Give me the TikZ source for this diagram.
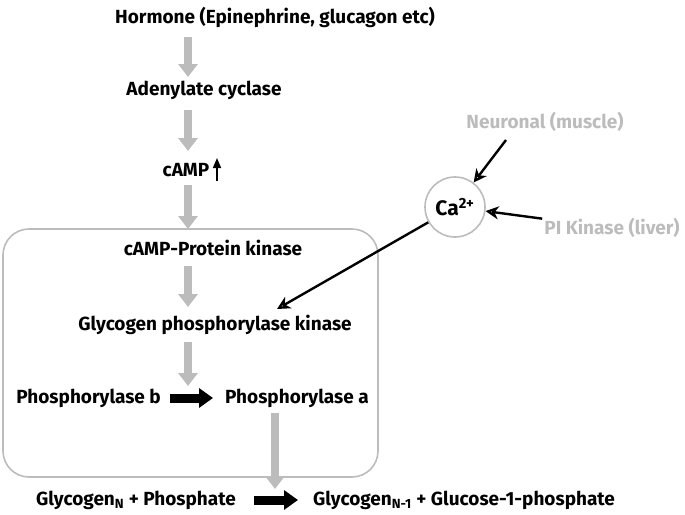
\documentclass[tikz,border=0pt]{standalone}
\usepackage{fontspec}
\setmainfont{Fira Sans}
\usepackage{tikz}
\usetikzlibrary{arrows.meta,calc}
\definecolor{lightgr}{RGB}{188,188,188}

\tikzset{
  lbl/.style={font=\bfseries\fontsize{19}{22}\selectfont, inner sep=2pt},
  side/.style={lbl, text=lightgr},
  grayarrow/.style={draw=lightgr, line width=8pt, -{Triangle[width=19pt,length=13pt]}},
  fatarrow/.style={draw=black, line width=9pt, -{Triangle[width=19pt,length=14pt]}},
  thinarrow/.style={draw=black, line width=2.4pt, -{Stealth[open,length=13pt,width=13pt,inset=4pt]}},
}

\begin{document}
\begin{tikzpicture}[x=1pt,y=-1pt]
   \useasboundingbox (0,0) rectangle (685,514);

   % cell box
   \draw[lightgr, line width=1.6pt, rounded corners=26pt] (3,229) rectangle (378,477);

   \node[lbl] (hormone) at (275,17) {Hormone (Epinephrine, glucagon etc)};
   \node[lbl] (adenyl)  at (204,90) {Adenylate cyclase};
   \node[lbl] (camp)    at (186,170) {cAMP};
   \node[lbl] (pka)     at (213,248) {cAMP-Protein kinase};
   \node[lbl] (gpk)     at (215,325) {Glycogen phosphorylase kinase};
   \node[lbl, anchor=east] (phosb) at (163,398) {Phosphorylase b};
   \node[lbl, anchor=west] (phosa) at (223,398) {Phosphorylase a};
   \node[lbl, anchor=east] (glyn)  at (238,500) {Glycogen\textsubscript{N} + Phosphate};
   \node[lbl, anchor=west] (glyn1) at (311,500) {Glycogen\textsubscript{N-1} + Glucose-1-phosphate};

   \node[circle, draw=lightgr, line width=1.6pt, minimum size=60pt,
         font=\bfseries\fontsize{21}{24}\selectfont, inner sep=0pt] (ca) at (455,207) {Ca\textsuperscript{2+}};
   \node[side] (neuro) at (545,122) {Neuronal (muscle)};
   \node[side] (pik)   at (612,228) {PI Kinase (liver)};

   \coordinate (campup) at (217,181);
   \coordinate (gpkin) at (277,309);
   \coordinate (neuout) at (506,140);
   \coordinate (rxn) at (275,489);

   % main cascade
   \draw[grayarrow] (188,37) -- (188,77);
   \draw[grayarrow] (188,110) -- (188,151);
   \draw[grayarrow] (188,185) -- (188,229);
   \draw[grayarrow] (188,266) -- (188,307);
   \draw[grayarrow] (188,342) -- (188,386);
   \draw[grayarrow] (275,413) -- (rxn);

   \draw[black, line width=1.6pt, -{Triangle[width=8pt,length=10pt]}] (campup) -- ++(0,-23);

   \draw[fatarrow, shorten <=7pt, shorten >=10pt] (phosb) -- (phosa);
   \draw[fatarrow, shorten <=16pt, shorten >=13pt] (glyn) -- (glyn1);

   % calcium inputs
   \draw[thinarrow] (neuout) -- (ca);
   \draw[thinarrow] (pik) -- (ca);
   \draw[thinarrow] (ca) -- (gpkin);
\end{tikzpicture}
\end{document}
